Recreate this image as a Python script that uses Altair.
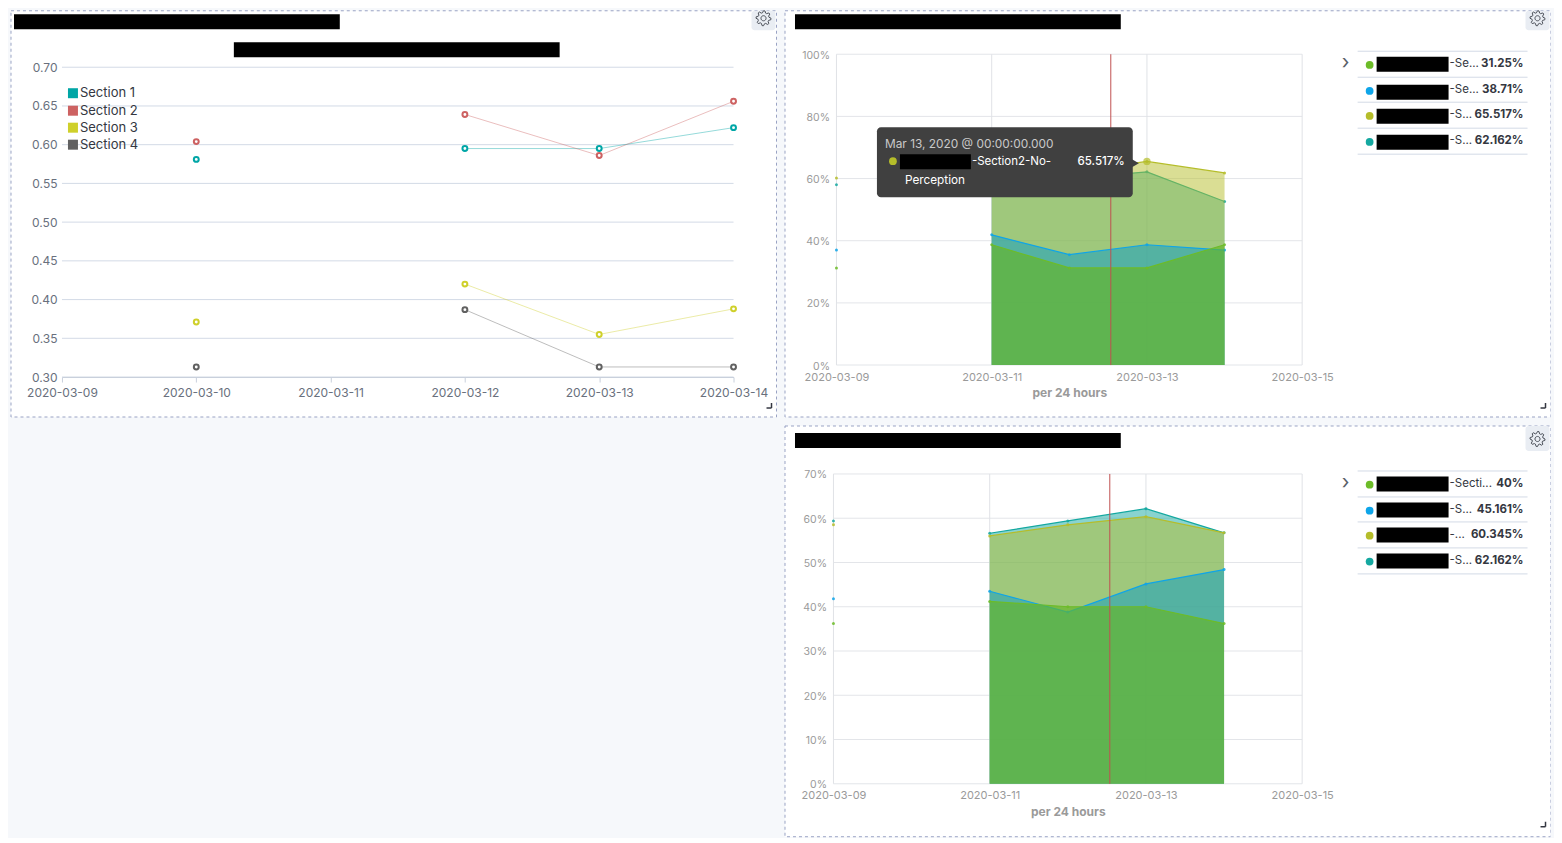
import math
import altair as alt
import pandas as pd

FONT = "Inter"
PAGE_BG = "#f6f8fb"
FRAME = "#9aa3c4"
ONE = pd.DataFrame({"a": [0]})

# ---------- data: left panel ----------
days1 = ["2020-03-10", "2020-03-11", "2020-03-12", "2020-03-13", "2020-03-14"]
sections = ["Section 1", "Section 2", "Section 3", "Section 4"]
section_colors = ["#00a6a6", "#cd6262", "#cfd02b", "#616161"]
section_1 = [0.581, None, 0.595, 0.595, 0.622]
section_2 = [0.604, None, 0.639, 0.586, 0.656]
section_3 = [0.371, None, 0.420, 0.355, 0.388]
section_4 = [0.313, None, 0.387, 0.313, 0.313]
y_ticks1 = [0.30, 0.35, 0.40, 0.45, 0.50, 0.55, 0.60, 0.65, 0.70]

# ---------- data: right panels ----------
days2 = ["2020-03-09", "2020-03-10", "2020-03-11", "2020-03-12", "2020-03-13", "2020-03-14"]
series_colors = {"teal": "#14a8a0", "lime": "#b5bd2a", "blue": "#0ea5e9", "green": "#6cbc28"}
area_colors = {"teal": "#14a8a0", "lime": "#b5bd2a", "blue": "#0a9cc8", "green": "#66b525"}
area_opacity = {"teal": 0.5, "lime": 0.5, "blue": 0.5, "green": 0.65}
top_teal = [58.0, None, 58.5, 60.0, 62.162, 52.6]
top_lime = [60.2, None, 60.0, 62.0, 65.517, 61.8]
top_blue = [37.0, None, 41.9, 35.5, 38.71, 37.0]
top_green = [31.25, None, 38.7, 31.25, 31.25, 38.7]
bot_teal = [59.4, None, 56.6, 59.4, 62.162, 56.7]
bot_lime = [58.5, None, 56.0, 58.5, 60.345, 56.7]
bot_blue = [41.8, None, 43.5, 38.8, 45.161, 48.4]
bot_green = [36.2, None, 41.2, 40.0, 40.0, 36.2]
y_ticks_top = [0, 20, 40, 60, 80, 100]
y_ticks_bot = [0, 10, 20, 30, 40, 50, 60, 70]
x_edges = ["2020-03-09", "2020-03-11", "2020-03-13", "2020-03-15"]
legend_top = [("-Se...", "31.25%", "green"), ("-Se...", "38.71%", "blue"),
              ("-S...", "65.517%", "lime"), ("-S...", "62.162%", "teal")]
legend_bot = [("-Secti...", "40%", "green"), ("-S...", "45.161%", "blue"),
              ("-...", "60.345%", "lime"), ("-S...", "62.162%", "teal")]


def gear_path():
    pts = []
    teeth = 8
    for i in range(teeth * 4):
        ang = 2 * math.pi * i / (teeth * 4)
        r = 1.0 if i % 4 in (0, 1) else 0.74
        pts.append((r * math.cos(ang), r * math.sin(ang)))
    d = "M" + " L".join(f"{x:.3f},{y:.3f}" for x, y in pts) + " Z"
    d += " M0.34,0 A0.34,0.34 0 1,0 -0.34,0 A0.34,0.34 0 1,0 0.34,0 Z"
    return d


GEAR = gear_path()


# ---------- decoration helpers (page pixels, relative to a panel origin) ----------
def box(o, x0, y0, x1, y1, **mark):
    return alt.Chart(ONE).mark_rect(**mark).encode(
        x=alt.value(x0 - o[0]), x2=alt.value(x1 - o[0]),
        y=alt.value(y0 - o[1]), y2=alt.value(y1 - o[1]))


def line(o, x0, y0, x1, y1, color, width=1):
    return alt.Chart(ONE).mark_rule(color=color, strokeWidth=width).encode(
        x=alt.value(x0 - o[0]), x2=alt.value(x1 - o[0]),
        y=alt.value(y0 - o[1]), y2=alt.value(y1 - o[1]))


def label(o, x, y, text, **mark):
    mark.setdefault("font", FONT)
    mark.setdefault("baseline", "middle")
    return alt.Chart(ONE).mark_text(**mark).encode(
        x=alt.value(x - o[0]), y=alt.value(y - o[1]), text=alt.value(text))


def dot(o, x, y, color, size=50, shape="circle"):
    return alt.Chart(ONE).mark_point(filled=True, opacity=1, color=color, size=size, shape=shape).encode(
        x=alt.value(x - o[0]), y=alt.value(y - o[1]))


def chrome(o, left, top, right, bottom, gear_y, corner_y):
    """White dashed panel, settings button, resize corner."""
    return [
        box(o, left, top, right, bottom, fill="white", stroke=FRAME, strokeWidth=1, strokeDash=[3, 3]),
        box(o, right - 25, top, right - 1, gear_y + 12, fill="#e9edf3", cornerRadius=3),
        alt.Chart(ONE).mark_point(shape=GEAR, filled=False, stroke="#4a4f58", strokeWidth=1, opacity=1, size=225).encode(
            x=alt.value(right - 13 - o[0]), y=alt.value(gear_y - o[1])),
        line(o, right - 10, corner_y, right - 5, corner_y, "#343741", 1.5),
        line(o, right - 5, corner_y - 5, right - 5, corner_y, "#343741", 1.5),
    ]


# ---------- left panel ----------
W1, H1 = 672, 322
O1 = (62, 54)
rows1 = []
for name, vals in zip(sections, [section_1, section_2, section_3, section_4]):
    for d, v in zip(days1, vals):
        rows1.append({"day": d, "value": v, "section": name})
df1 = pd.DataFrame(rows1)

x1 = alt.X("day:T", title=None,
           scale=alt.Scale(type="utc", domain=["2020-03-09", "2020-03-14"]),
           axis=alt.Axis(format="%Y-%m-%d", tickCount={"interval": "day", "step": 1}, grid=False, zindex=1,
                         domainColor="#c9d0dc", tickColor="#c9d0dc", tickSize=5, labelFlush=False, labelOverlap=False,
                         labelColor="#69707d", labelFontSize=12, labelPadding=5, labelFont=FONT))
y1_scale = alt.Scale(domain=[0.30, 0.70], range=[H1, 12], nice=False, zero=False)
y1 = alt.Y("value:Q", title=None, scale=y1_scale,
           axis=alt.Axis(values=y_ticks1, format=".2f", grid=False, domain=False, ticks=False, zindex=1,
                         labelColor="#69707d", labelFontSize=12, labelPadding=5, labelFont=FONT))
sec_scale = alt.Scale(domain=sections, range=section_colors)

grid1 = alt.Chart(pd.DataFrame({"value": y_ticks1})).mark_rule(color="#d3dae6", strokeWidth=1).encode(y=y1)
lines1 = alt.Chart(df1).mark_line(strokeWidth=1, opacity=0.42).encode(
    x=x1, y=y1, stroke=alt.Stroke("section:N", scale=sec_scale, legend=None))
points1 = alt.Chart(df1).mark_point(filled=False, fill="white", fillOpacity=1, opacity=1, strokeWidth=2, size=24).encode(
    x=x1, y=y1, stroke=alt.Stroke("section:N", scale=sec_scale, legend=None))

legend_rows1 = []
for name, col, cy in zip(sections, section_colors, [92, 109.5, 126.5, 143.5]):
    legend_rows1.append(dot(O1, 73, cy, col, 100, "square"))
    legend_rows1.append(label(O1, 80, cy, name, fontSize=13, color="#343741", align="left"))

p1 = alt.layer(
    box(O1, 8, 9, 12, 420, fill=PAGE_BG),
    *chrome(O1, 11, 9.5, 777, 416, 17, 407),
    grid1, lines1, points1, *legend_rows1,
    box(O1, 14, 13, 340, 28, fill="black"),
    box(O1, 234, 41, 560, 56, fill="black"),
).properties(width=W1, height=H1)


# ---------- right panels ----------
def area_panel(o, ymax, ticks, series, legend_rows, title_y, y_pad, gear_y, corner_y, y_range,
               top, box_dy, x_left=0):
    dom = ["2020-03-09", "2020-03-15"]
    sx = alt.Scale(type="utc", domain=dom, range=[x_left, 466])
    sy = alt.Scale(domain=[0, ymax], nice=False, range=y_range)
    x_ax = alt.X("day:T", scale=sx, axis=alt.Axis(
        format="%Y-%m-%d", tickCount={"interval": "day", "step": 2}, grid=False, domain=False, ticks=False,
        zindex=1, labelColor="#9a9a9a", labelFontSize=11, labelFont=FONT, labelPadding=6, labelFlush=False,
        labelOverlap=False, title="per 24 hours", titleColor="#9a9a9a", titleFont=FONT, titleFontSize=12,
        titleFontWeight="bold", titlePadding=5.5))
    y_ax = alt.Y("value:Q", title=None, scale=sy, axis=alt.Axis(
        values=ticks, format=".0f", labelExpr="datum.label + '%'", grid=False, domain=False, ticks=False, zindex=1,
        labelColor="#9a9a9a", labelFontSize=10.5, labelFont=FONT, labelPadding=y_pad, labelOffset=1))
    layers = chrome(o, o[2], o[3], o[4], o[5], gear_y, corner_y)
    layers.append(alt.Chart(pd.DataFrame({"value": ticks})).mark_rule(color="#e3e5e9").encode(
        y=y_ax, x=alt.value(x_left), x2=alt.value(466)))
    layers.append(alt.Chart(pd.DataFrame({"day": x_edges})).mark_rule(color="#e0e2e6").encode(
        x=x_ax, y=alt.value(y_range[1]), y2=alt.value(y_range[0])))
    for key, vals in series:
        col = series_colors[key]
        d = pd.DataFrame({"day": days2, "value": vals})
        layers.append(alt.Chart(d).mark_area(color=area_colors[key], opacity=area_opacity[key]).encode(x=x_ax, y=y_ax))
        layers.append(alt.Chart(d).mark_line(color=col, strokeWidth=1.2).encode(x=x_ax, y=y_ax))
        layers.append(alt.Chart(d).mark_point(color=col, filled=True, opacity=0.85, size=9).encode(x=x_ax, y=y_ax))
    # side legend
    lx0, lx1 = 1358, 1528
    ys = [top, top + 26, top + 51, top + 77, top + 103]
    centers = [top + 13, top + 39, top + 64, top + 90]
    layers.append(label(o, 1346, top + 12, "\u203a", fontSize=20, color="#5a5f68", align="center"))
    for yy in ys:
        layers.append(line(o, lx0, yy, lx1, yy, "#d3dae6", 1))
    for (suffix, val, key), cy, dy in zip(legend_rows, centers, box_dy):
        layers.append(dot(o, 1370, cy + 0.7, series_colors[key], 60))
        layers.append(box(o, 1377, cy + dy - 7.5, 1449, cy + dy + 7.5, fill="black"))
        layers.append(label(o, 1450, cy, suffix, fontSize=11.5, color="#343741", align="left"))
        layers.append(label(o, 1524, cy, val, fontSize=11.5, fontWeight="bold", color="#343741", align="right"))
    layers.append(box(o, 795, title_y, 1121, title_y + 15, fill="black"))
    return layers, x_ax, y_ax


# page coordinates of the top panel: origin x/y, panel box
O2 = (836.5, 54, 785, 9.5, 1551, 416)
W2, H2 = 466, 310
layers2, xp2, yp2 = area_panel(
    O2, 100, y_ticks_top,
    [("teal", top_teal), ("lime", top_lime), ("blue", top_blue), ("green", top_green)],
    legend_top, 13, 7, 17, 407, [310, -1], 50, [0, 2, 1, 1])
# bg extender + crosshair + hover dot + tooltip
hover = alt.Chart(pd.DataFrame({"day": ["2020-03-13"], "value": [65.517]})).mark_point(
    color=series_colors["lime"], filled=True, opacity=0.7, size=55).encode(x=xp2, y=yp2)
layers2 += [
    box(O2, 1551, 9.5, 1554, 420, fill=PAGE_BG),
    hover,
    line(O2, 1111, 53, 1111, 364, "#c05050", 1),
    box(O2, 877, 126, 1133, 196, fill="#404040", cornerRadius=4),
    dot(O2, 1135, 162, "#404040", 90, "triangle-right"),
    label(O2, 885, 143, "Mar 13, 2020 @ 00:00:00.000", fontSize=11.9, color="#c9c9c9", align="left"),
    dot(O2, 893, 160, series_colors["lime"], 60),
    box(O2, 900, 153, 971, 168, fill="black"),
    label(O2, 972, 161, "-Section2-No-", fontSize=11.5, color="white", align="left"),
    label(O2, 1125, 161, "65.517%", fontSize=11.5, fontWeight=500, color="white", align="right"),
    label(O2, 905, 179, "Perception", fontSize=11.8, color="white", align="left"),
]
p2 = alt.layer(*layers2).properties(width=W2, height=H2)

O3 = (836.5, 473, 785, 425, 1551, 836)
W3, H3 = 466, 310
layers3, xp3, yp3 = area_panel(
    O3, 70, y_ticks_bot,
    [("teal", bot_teal), ("lime", bot_lime), ("blue", bot_blue), ("green", bot_green)],
    legend_bot, 432, 10, 438, 826, [310, 0], 470, [0, 0, 0, 0], x_left=-3)
layers3 += [
    box(O3, 1551, 420, 1554, 837, fill=PAGE_BG),
    line(O3, 1110, 473, 1110, 783, "#c05050", 1),
]
p3 = alt.layer(*layers3).properties(width=W3, height=H3)

blank = alt.Chart(ONE).mark_point(opacity=0).encode(x=alt.value(0), y=alt.value(0)).properties(width=668, height=H3)

chart = alt.concat(
    p1, p2, blank, p3, columns=2,
    spacing={"row": 97, "column": 103},
    align={"row": "all", "column": "none"},
    bounds="flush",
    padding=0,
    background=PAGE_BG,
).configure_view(strokeWidth=0)

chart.save("out.html", embed_options={"renderer": "svg", "actions": False})
